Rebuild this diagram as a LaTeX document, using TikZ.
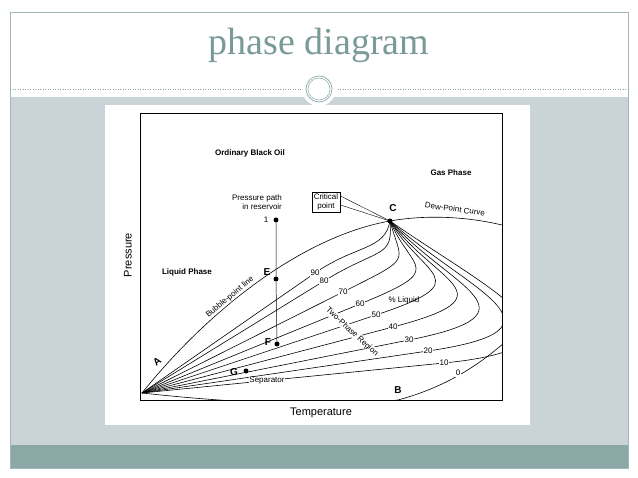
\documentclass[tikz,border=0pt]{standalone}
\usepackage{fontspec}
\setmainfont{Liberation Sans}
\newfontfamily\titlefont{Liberation Serif}
\usetikzlibrary{calc}
\definecolor{slidegrey}{HTML}{C9D3D8}
\definecolor{slideteal}{HTML}{8BA8A7}
\definecolor{titlecol}{HTML}{7A9A98}
\begin{document}
\begin{tikzpicture}[x=1pt,y=1pt,
  lbl/.style={font=\fontsize{8}{9}\selectfont\bfseries, inner sep=0.5pt},
  txt/.style={font=\fontsize{8}{9}\selectfont, inner sep=0.5pt},
  pct/.style={font=\fontsize{8}{9}\selectfont, fill=white, inner sep=0.8pt},
  dot/.style={circle, fill=black, inner sep=0pt, minimum size=5pt},
  curve/.style={line width=0.6pt}]
\useasboundingbox (0,0) rectangle (638,478);
\fill[white] (0,0) rectangle (638,478);
\fill[slideteal] (10,10) rectangle (628,33);
\fill[slidegrey] (10,33) rectangle (628,381);
\draw[slideteal!80, line width=0.6pt] (10,10) rectangle (628,466);
\draw[slideteal, dotted, line width=0.5pt] (10,389) -- (628,389);
\fill[white] (319,389) circle (17);
\draw[slideteal, line width=0.7pt] (319,389) circle (13);
\draw[slideteal, line width=0.5pt] (319,389) circle (11);
\node[font=\titlefont\fontsize{38}{42}\selectfont, text=titlecol] (title) at (319,433) {phase diagram};
% panel
\fill[white] (105,53) rectangle (530,373);
\draw[line width=0.7pt] (140,78) rectangle (502,365);
\coordinate (O) at (142,85);
\coordinate (C) at (390,257);
\begin{scope}
\clip (140,78) rectangle (502,365);
\draw[curve] (O) .. controls (212,172) and (305,242) .. (C);
\foreach \x/\y/\d/\b/\e in {315/205/50/260/30, 324/197/65/275/38, 343/186/80/285/45, 360/174/95/293/55, 376/163/110/300/65, 393/151/125/306/78, 409/138/140/312/90, 428/127/155/318/105, 444/115/170/325/120}
  \draw[curve] (O) -- (\x,\y) .. controls ($(\x,\y)!-\d pt!(O)$) and ($(C)+(\b:\e)$) .. (C);
\draw[curve] (O) .. controls (260,72) and (350,72) .. (398,78) .. controls (450,92) and (490,118) .. (530,160);
\draw[curve] (C) .. controls (430,264) and (480,262) .. (530,245);
\end{scope}
% percent labels
\foreach \p/\x/\y in {90/315/205, 80/324/197, 70/343/186, 60/360/174, 50/376/163, 40/393/151, 30/409/138, 20/428/127, 10/444/115, 0/458/105}
  \node[pct] (p\p) at (\x,\y) {\p};
% path points
\node[dot] (n1) at (276,258) {};
\node[dot] (nE) at (276,199) {};
\node[dot] (nF) at (277,134) {};
\node[dot] (nG) at (246,107) {};
\node[dot] (nC) at (C) {};
\draw[line width=0.5pt] (n1) -- (nE) -- (nF);
\node[txt] (l1) at (266,258) {1};
\node[lbl] (lE) at (267,206) {\fontsize{10}{11}\selectfont E};
\node[lbl] (lF) at (268,136) {\fontsize{10}{11}\selectfont F};
\node[lbl] (lG) at (234,106) {\fontsize{10}{11}\selectfont G};
\node[lbl] (lC) at (393,270) {\fontsize{10}{11}\selectfont C};
\node[lbl, rotate=38] (lA) at (157,116) {\fontsize{10}{11}\selectfont A};
\node[lbl] (lB) at (398,88) {\fontsize{10}{11}\selectfont B};
\node[txt, draw, align=center, line width=0.5pt, inner sep=2pt] (crit) at (326,276) {Critical\\point};
\draw[line width=0.4pt] (crit.east) ++(0,6) -- (C);
\draw[line width=0.4pt] (crit.east) ++(0,-3) -- (C);
\node[lbl] (obo) at (250,325) {Ordinary Black Oil};
\node[lbl] (gas) at (451,305) {Gas Phase};
\node[lbl] (liq) at (187,206) {Liquid Phase};
\node[txt, align=right] (pp) at (257,276) {Pressure path\\in reservoir};
\node[txt, rotate=-8] (dew) at (455,269) {Dew-Point Curve};
\node[txt, rotate=40, fill=white] (bub) at (230,181) {Bubble-point line};
\node[txt, rotate=-42, fill=white] (two) at (352,146) {Two-Phase Region};
\node[txt] (plq) at (404,178) {\% Liquid};
\node[txt, fill=white] (sep) at (267,97) {Separator};
\node[font=\fontsize{11}{12}\selectfont] (temp) at (321,65) {Temperature};
\node[font=\fontsize{11}{12}\selectfont, rotate=90] (pres) at (128,223) {Pressure};
\end{tikzpicture}
\end{document}
